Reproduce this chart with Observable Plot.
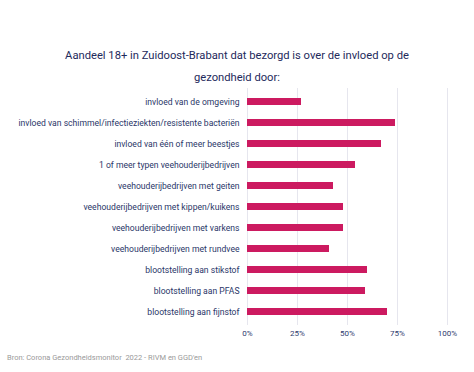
<!DOCTYPE html>
<html>
<head>
<meta charset="utf-8">
<script src="https://cdn.jsdelivr.net/npm/d3@7"></script>
<script src="https://cdn.jsdelivr.net/npm/@observablehq/plot@0.6"></script>
<style>
  html, body { margin: 0; padding: 0; background: #fff; }
  #wrap { position: relative; width: 474px; height: 372px; overflow: hidden; font-family: Roboto, sans-serif; }
  #title { position: absolute; left: 0; top: 45px; width: 474px; text-align: center; font-size: 11.2px; line-height: 22px; color: #1e2a5c; }
  #caption { position: absolute; left: 7px; top: 353px; font-size: 7.5px; line-height: 10px; color: #9a9a9a; white-space: pre; }
  #chart { position: absolute; left: 0; top: 0; }
</style>
</head>
<body>
<div id="wrap">
  <div id="chart"></div>
  <div id="title">Aandeel 18+ in Zuidoost-Brabant dat bezorgd is over de invloed op de<br>gezondheid door:</div>
  <div id="caption">Bron: Corona Gezondheidsmonitor  2022 - RIVM en GGD'en</div>
</div>
<script>
const categories = [
  "invloed van de omgeving",
  "invloed van schimmel/infectieziekten/resistente bacteriën",
  "invloed van één of meer beestjes",
  "1 of meer typen veehouderijbedrijven",
  "veehouderijbedrijven met geiten",
  "veehouderijbedrijven met kippen/kuikens",
  "veehouderijbedrijven met varkens",
  "veehouderijbedrijven met rundvee",
  "blootstelling aan stikstof",
  "blootstelling aan PFAS",
  "blootstelling aan fijnstof"
];
const values = [27, 74, 67, 54, 43, 48, 48, 41, 60, 59, 70];
const xTicks = [0, 25, 50, 75, 100];

const data = categories.map((c, i) => ({category: c, value: values[i]}));

const chart = Plot.plot({
  width: 474,
  height: 372,
  marginTop: 88,
  marginBottom: 47,
  marginLeft: 247,
  marginRight: 27,
  style: {fontFamily: "Roboto, sans-serif", background: "transparent"},
  x: {domain: [0, 100], ticks: xTicks, tickFormat: d => d + "%", label: null},
  y: {domain: categories, paddingInner: 0.65, paddingOuter: 0.45, label: null},
  marks: [
    Plot.gridX(xTicks, {stroke: "#e6e6ee", strokeOpacity: 1}),
    Plot.barX(data, {y: "category", x: "value", fill: "#cc1a60"}),
    Plot.axisX({ticks: xTicks, tickFormat: d => d + "%", tickSize: 0, tickPadding: 5, fontSize: 8, fill: "#2e3a6e", label: null}),
    Plot.axisY({tickSize: 0, tickPadding: 8, fontSize: 8.6, fill: "#2a3668", label: null})
  ]
});
document.getElementById("chart").appendChild(chart);
</script>
</body>
</html>
